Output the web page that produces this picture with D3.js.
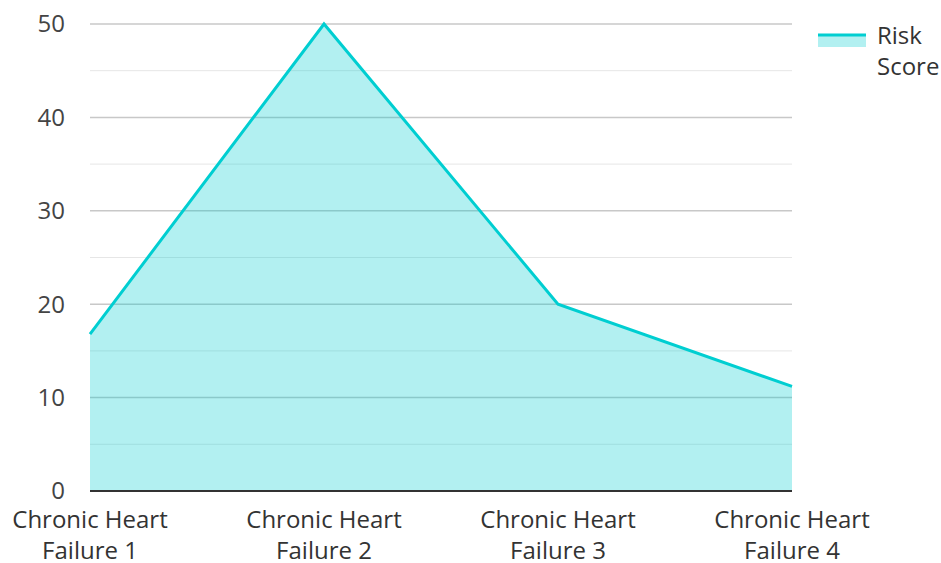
<!DOCTYPE html>
<html><head><meta charset="utf-8">
<script src="https://cdn.jsdelivr.net/npm/d3@7"></script>
<style>body{margin:0;background:#fff}svg{display:block;font-family:"Open Sans",sans-serif}</style>
</head><body>
<svg id="c" width="941" height="563"></svg>
<script>
const categories = [["Chronic Heart","Failure 1"],["Chronic Heart","Failure 2"],["Chronic Heart","Failure 3"],["Chronic Heart","Failure 4"]];
const riskScore = [16.8, 50, 20, 11.2];
const yTicks = [0, 10, 20, 30, 40, 50];
const minorTicks = [5, 15, 25, 35, 45];
const seriesName = ["Risk", "Score"];

const svg = d3.select("#c");
const mLeft = 90, mRight = 792, mTop = 24, mBottom = 491;
const x = d3.scalePoint().domain(d3.range(categories.length)).range([mLeft, mRight]);
const y = d3.scaleLinear().domain([0, 50]).range([mBottom, mTop]);
const lineColor = "rgb(0,206,209)", fillColor = "rgba(0,206,209,0.3)";
const fs = 24;

svg.append("g").selectAll("line").data(minorTicks).join("line")
  .attr("x1", mLeft).attr("x2", mRight).attr("y1", d => y(d)).attr("y2", d => y(d))
  .attr("stroke", "#e6e6e6").attr("stroke-width", 1);
svg.append("g").selectAll("line").data(yTicks.filter(d => d > 0)).join("line")
  .attr("x1", mLeft).attr("x2", mRight).attr("y1", d => y(d)).attr("y2", d => y(d))
  .attr("stroke", "#c8c8c8").attr("stroke-width", 1.5);

const idx = d3.range(riskScore.length);
svg.append("path").datum(idx)
  .attr("d", d3.area().x(i => x(i)).y0(y(0)).y1(i => y(riskScore[i])))
  .attr("fill", fillColor);
svg.append("path").datum(idx)
  .attr("d", d3.line().x(i => x(i)).y(i => y(riskScore[i])))
  .attr("fill", "none").attr("stroke", lineColor).attr("stroke-width", 3);

svg.append("line").attr("x1", mLeft).attr("x2", mRight).attr("y1", y(0)).attr("y2", y(0))
  .attr("stroke", "#333").attr("stroke-width", 2);

svg.append("g").selectAll("text").data(yTicks).join("text")
  .attr("x", 65).attr("y", d => y(d)).attr("dy", "0.35em").attr("text-anchor", "end")
  .attr("font-size", fs).attr("fill", "#444").text(d => d);

const xl = svg.append("g").selectAll("text").data(categories).join("text")
  .attr("text-anchor", "middle").attr("font-size", fs).attr("fill", "#333");
xl.each(function(d, i) {
  d3.select(this).selectAll("tspan").data(d).join("tspan")
    .attr("x", x(i)).attr("y", (t, j) => 528 + j * 31).text(t => t);
});

const lg = svg.append("g");
lg.append("rect").attr("x", 818).attr("y", 35).attr("width", 48).attr("height", 12).attr("fill", fillColor);
lg.append("line").attr("x1", 818).attr("x2", 866).attr("y1", 35).attr("y2", 35).attr("stroke", lineColor).attr("stroke-width", 3);
lg.append("text").attr("font-size", fs).attr("fill", "#333")
  .selectAll("tspan").data(seriesName).join("tspan")
  .attr("x", 877).attr("y", (t, j) => 44 + j * 31).text(t => t);
</script>
</body></html>
